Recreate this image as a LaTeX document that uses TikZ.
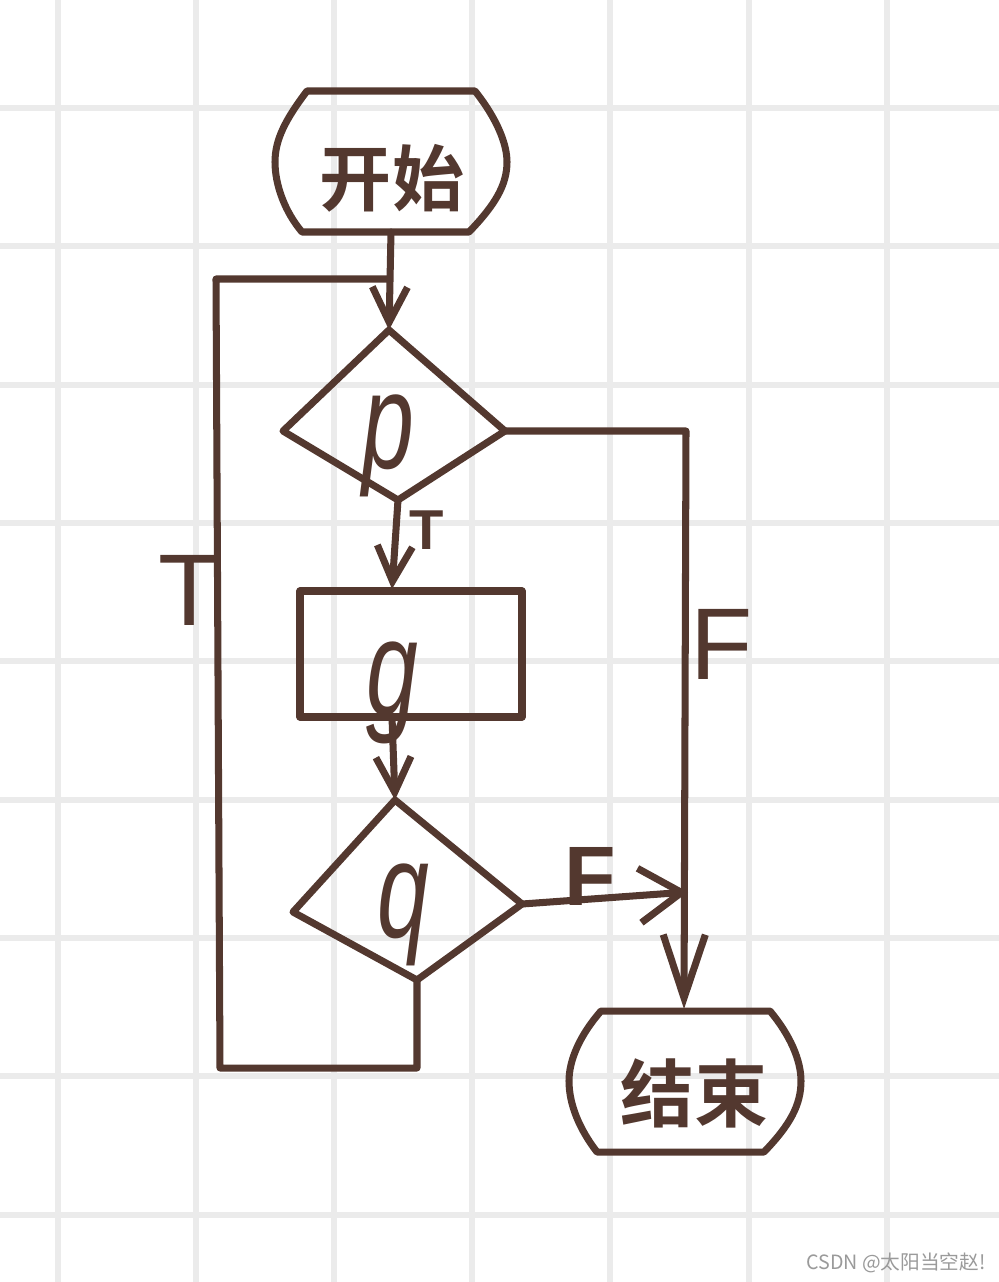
\documentclass[tikz,border=0pt]{standalone}
\usepackage{xcolor}
\usepackage{fontspec}
\setsansfont{Liberation Sans}
\newfontfamily\cjkfont{Noto Sans CJK SC}[BoldFont={* Bold}]
\usetikzlibrary{positioning, arrows.meta}
\definecolor{handbrown}{HTML}{53382F}
\definecolor{gridgray}{HTML}{EBEBEB}
\definecolor{markgray}{HTML}{9A9A9A}
\tikzset{
  hand/.style={draw=handbrown, line width=4pt, line join=round, line cap=round},
  flow/.style={hand, -{Straight Barb[length=20pt, width=20pt, line width=4pt]}},
  wideflow/.style={hand, -{Straight Barb[length=24pt, width=31pt, line width=4pt]}},
  longflow/.style={hand, -{Straight Barb[length=36pt, width=24pt, line width=4pt]}},
  word/.style={inner sep=0pt, text=handbrown, font=\cjkfont\bfseries\fontsize{#1}{#1}\selectfont},
  letter/.style={inner sep=0pt, text=handbrown, font=\sffamily\itshape\fontsize{78}{78}\selectfont, xscale=0.68, transform shape},
  mark/.style={inner sep=0pt, text=handbrown, font=\sffamily\fontsize{#1}{#1}\selectfont}
}
\begin{document}
\begin{tikzpicture}[x=0.02cm, y=-0.02cm]
\useasboundingbox (0,0) rectangle (999,1282);
% Paper grid
\fill[white] (0,0) rectangle (999,1282);
\foreach \gx in {58,196,334,472,610,749,887} {
  \draw[gridgray, line width=3.2pt] (\gx,0) -- (\gx,1282);
}
\foreach \gy in {108,246,385,523,661,800,938,1076,1215} {
  \draw[gridgray, line width=3.2pt] (0,\gy) -- (999,\gy);
}
% Corners
\coordinate (startBottom) at (391,232);
\coordinate (loopIn) at (389,279);
\coordinate (loopTop) at (216,279);
\coordinate (loopLow) at (220,1068);
\coordinate (loopOut) at (417,1068);
\coordinate (pTop) at (389,330);
\coordinate (pRight) at (505,431);
\coordinate (pBottom) at (398,500);
\coordinate (pLeft) at (283,431);
\coordinate (qTop) at (395,800);
\coordinate (qRight) at (522,904);
\coordinate (qBottom) at (417,980);
\coordinate (qLeft) at (293,912);
\coordinate (fCorner) at (686,431);
\coordinate (fJoin) at (688,892);
\coordinate (endTop) at (684,1009);
\coordinate (boxTop) at (392,589);
\coordinate (boxBottom) at (392,717);
% Boxes
\draw[hand] (307,91) -- (475,91) .. controls (498,120) and (507,145) .. (507,162)
  .. controls (507,185) and (495,205) .. (469,232) -- (302,232)
  .. controls (285,212) and (275,185) .. (275,162)
  .. controls (275,140) and (285,120) .. (307,91) -- cycle;
\draw[hand] (601,1011) -- (770,1011) .. controls (790,1035) and (801,1060) .. (801,1081)
  .. controls (801,1105) and (790,1125) .. (764,1152) -- (597,1152)
  .. controls (580,1130) and (569,1105) .. (569,1081)
  .. controls (569,1060) and (580,1035) .. (601,1011) -- cycle;
\draw[hand] (pTop) -- (pRight) -- (pBottom) -- (pLeft) -- cycle;
\draw[hand] (qTop) -- (qRight) -- (qBottom) -- (qLeft) -- cycle;
\draw[hand] (300,591) rectangle (522,717);
% Texts
\node[word=41] (start) at (392,178) {开始};
\node[word=42] (end) at (694,1093) {结束};
\node[letter] (p) at (388,446) {p};
\node[letter] (g) at (392,693) {g};
\node[letter] (q) at (403,915) {q};
\node[mark=32] (tSmall) at (427,530) {\bfseries T};
\node[mark=58] (tBig) at (190,590) {T};
\node[mark=58] (fBig) at (722,644) {F};
\node[mark=48] (fSmall) at (590,876) {\bfseries F};
% Flow
\draw[flow] (startBottom) -- (pTop);
\draw[hand] (loopIn) -- (loopTop) -- (loopLow) -- (loopOut) -- (qBottom);
\draw[flow] (pBottom) -- (boxTop);
\draw[flow] (boxBottom) -- (qTop);
\draw[wideflow] (qRight) -- (fJoin);
\draw[longflow] (pRight) -- (fCorner) -- (endTop);
% Watermark
\node[inner sep=0pt, text=markgray, font=\cjkfont\fontsize{11.2}{11.2}\selectfont] (credit) at (896,1263) {CSDN @太阳当空赵!};
\end{tikzpicture}
\end{document}
